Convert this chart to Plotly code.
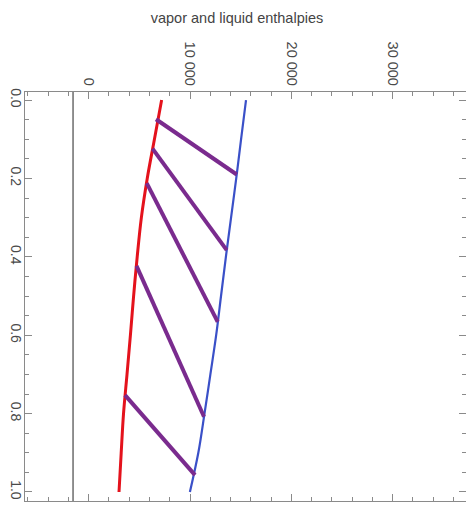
import plotly.graph_objects as go

# mole fraction (vertical axis) and enthalpies
x_frac = [0.0, 0.1, 0.2, 0.3, 0.4, 0.5, 0.6, 0.7, 0.8, 0.9, 1.0]
h_liquid = [7200, 6490, 5780, 5200, 4790, 4435, 4120, 3785, 3440, 3210, 2995]
h_vapor = [15525, 15040, 14560, 14050, 13540, 13060, 12580, 12010, 11430, 10820, 9990]

# tie lines: (liquid x, liquid H) -> (vapor x, vapor H)
tie_liq_x = [0.049, 0.124, 0.212, 0.423, 0.753]
tie_liq_h = [6645, 6300, 5728, 4721, 3587]
tie_vap_x = [0.190, 0.383, 0.566, 0.808, 0.957]
tie_vap_h = [14608, 13621, 12733, 11382, 10494]

axis_line_h = -1540
h_ticks = [0, 10000, 20000, 30000]
x_ticks = [0.0, 0.2, 0.4, 0.6, 0.8, 1.0]

RED = "#e4121c"
BLUE = "#3a50c8"
PURPLE = "#7a2b8e"

fig = go.Figure()

fig.add_vline(x=axis_line_h, line=dict(color="#555555", width=1.3))

fig.add_trace(go.Scatter(x=h_liquid, y=x_frac, mode="lines",
                         line=dict(color=RED, width=3, shape="spline"),
                         showlegend=False, hoverinfo="skip"))
fig.add_trace(go.Scatter(x=h_vapor, y=x_frac, mode="lines",
                         line=dict(color=BLUE, width=2.2, shape="spline"),
                         showlegend=False, hoverinfo="skip"))
for lx, lh, vx, vh in zip(tie_liq_x, tie_liq_h, tie_vap_x, tie_vap_h):
    fig.add_trace(go.Scatter(x=[lh, vh], y=[lx, vx], mode="lines",
                             line=dict(color=PURPLE, width=4),
                             showlegend=False, hoverinfo="skip"))

frame = dict(showline=True, linecolor="#8a8a8a", linewidth=1, mirror="ticks",
             ticks="inside", tickcolor="#8a8a8a", showgrid=False, zeroline=False,
             automargin=False)

fig.update_xaxes(range=[-6280, 37230], side="top", tickvals=h_ticks,
                 tickformat=",d", tickangle=90, ticklen=7,
                 tickfont=dict(size=14.5, color="#4a4a4a"),
                 minor=dict(dtick=2000, ticklen=4, ticks="inside", tickcolor="#8a8a8a"),
                 **frame)
fig.update_yaxes(range=[1.023, -0.0205], tickvals=x_ticks, tickformat=".1f",
                 tickangle=90, ticklen=7, ticklabelstandoff=-4,
                 tickfont=dict(size=14, color="#4a4a4a"),
                 minor=dict(dtick=0.05, ticklen=4, ticks="inside", tickcolor="#8a8a8a"),
                 **frame)

# page body has an 8px margin, so the figure is sized/offset to compensate
fig.update_layout(
    width=466, height=524,
    margin=dict(l=17, r=8, t=84, b=31),
    paper_bgcolor="white", plot_bgcolor="white",
    separators=". ",
    font=dict(family="Liberation Sans, Arial, sans-serif"),
    title=dict(text="vapor and liquid enthalpies", x=(237 - 8) / 466, xanchor="center",
               y=1 - 10 / 524, yanchor="middle",
               font=dict(size=14.5, color="#444444")),
)

fig.write_html("out.html")
